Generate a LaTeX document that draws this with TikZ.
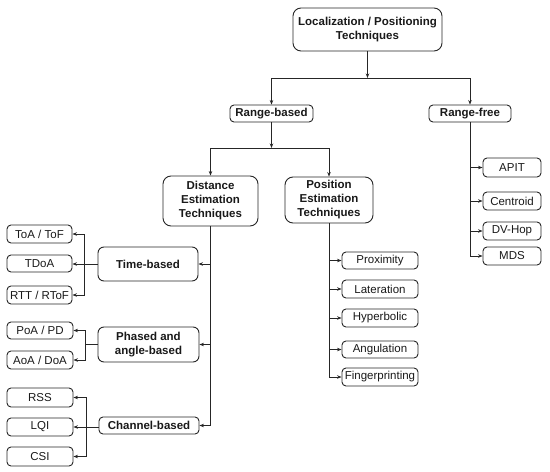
\documentclass[tikz,border=0pt]{standalone}
\usepackage{fontspec}
\setmainfont{Liberation Sans}
\usetikzlibrary{arrows.meta}
\begin{document}
\begin{tikzpicture}[x=1pt,y=-1pt,
  box/.style={draw=black!85, line width=0.9pt, rounded corners=4pt, inner sep=0pt, align=center,
    font=\fontsize{11.5}{14}\selectfont, text=black!90},
  bigbox/.style={box, rounded corners=8pt, font=\fontsize{11.5}{14}\selectfont\bfseries},
  midbox/.style={box, rounded corners=6pt, font=\fontsize{11.5}{14}\selectfont\bfseries},
  conn/.style={draw=black!85, line width=0.9pt},
  arr/.style={conn, -{Stealth[length=4.5pt,width=3.5pt]}}]
\useasboundingbox (0,0) rectangle (550,472);
% nodes
\node[bigbox, minimum width=149pt, minimum height=43pt] (top) at (367.5,29.5) {Localization / Positioning\\Techniques};
\node[midbox, rounded corners=4pt, minimum width=83pt, minimum height=17pt] (rb) at (271.5,113.5) {Range-based};
\node[midbox, rounded corners=4pt, minimum width=82pt, minimum height=17pt] (rf) at (470,113.5) {Range-free};
\node[bigbox, minimum width=95pt, minimum height=50pt] (dist) at (210.5,201) {Distance\\Estimation\\Techniques};
\node[bigbox, minimum width=88pt, minimum height=46pt] (pos) at (329,200) {Position\\Estimation\\Techniques};
\node[midbox, minimum width=100pt, minimum height=34pt] (time) at (148,264) {Time-based};
\node[midbox, minimum width=101pt, minimum height=35pt] (phase) at (148.5,344.5) {Phased and\\angle-based};
\node[midbox, rounded corners=4pt, minimum width=100pt, minimum height=17pt] (chan) at (149,425.5) {Channel-based};
% left leaves
\node[box, minimum width=65pt, minimum height=18pt] (toa) at (39.5,234) {ToA / ToF};
\node[box, minimum width=65pt, minimum height=17pt] (tdoa) at (39.5,263.5) {TDoA};
\node[box, minimum width=65pt, minimum height=18pt] (rtt) at (39.5,295) {RTT / RToF};
\node[box, minimum width=66pt, minimum height=17pt] (poa) at (40,330.5) {PoA / PD};
\node[box, minimum width=66pt, minimum height=18pt] (aoa) at (40,360) {AoA / DoA};
\node[box, minimum width=66pt, minimum height=19pt] (rss) at (40,397.5) {RSS};
\node[box, minimum width=66pt, minimum height=18pt] (lqi) at (40,427) {LQI};
\node[box, minimum width=66pt, minimum height=19pt] (csi) at (40,456.5) {CSI};
% position leaves
\node[box, minimum width=76pt, minimum height=17pt] (prox) at (380,260.5) {Proximity};
\node[box, minimum width=76pt, minimum height=18pt] (lat) at (380,289) {Lateration};
\node[box, minimum width=76pt, minimum height=18pt] (hyp) at (380,318) {Hyperbolic};
\node[box, minimum width=76pt, minimum height=17pt] (ang) at (380,349.5) {Angulation};
\node[box, minimum width=76pt, minimum height=18pt] (fin) at (380,377) {Fingerprinting};
% range-free leaves
\node[box, minimum width=58pt, minimum height=19pt] (apit) at (512,167.5) {APIT};
\node[box, minimum width=58pt, minimum height=18pt] (cent) at (512,201) {Centroid};
\node[box, minimum width=58pt, minimum height=18pt] (dvh) at (512,231) {DV-Hop};
\node[box, minimum width=58pt, minimum height=18pt] (mds) at (512,256) {MDS};
% junctions
\coordinate (j1) at (top.south |- 0,78);
\coordinate (j2) at (rb.south |- 0,148);
\coordinate (tb) at (84,264);
\coordinate (pb) at (85,344.5);
\coordinate (cb) at (86,427);
% connectors
\draw[arr] (top.south) -- (j1);
\draw[arr] (j1) -| (rb.north);
\draw[arr] (j1) -| (rf.north);
\draw[arr] (rb.south) -- (j2);
\draw[arr] (j2) -| (dist.north);
\draw[arr] (j2) -| (pos.north);
\draw[arr] (dist.south) |- (time.east);
\draw[arr] (dist.south) |- (phase.east);
\draw[arr] (dist.south) |- (chan.east);
\draw[conn] (time.west) -- (tb);
\draw[arr] (tb) |- (toa.east);
\draw[arr] (tb) -- (tdoa.east |- tb);
\draw[arr] (tb) |- (rtt.east);
\draw[conn] (phase.west) -- (pb);
\draw[arr] (pb) |- (poa.east);
\draw[arr] (pb) |- (aoa.east);
\draw[conn] (chan.west |- cb) -- (cb);
\draw[arr] (cb) |- (rss.east);
\draw[arr] (cb) -- (lqi.east);
\draw[arr] (cb) |- (csi.east);
\draw[arr] (pos.south) |- (prox.west);
\draw[arr] (pos.south) |- (lat.west);
\draw[arr] (pos.south) |- (hyp.west);
\draw[arr] (pos.south) |- (ang.west);
\draw[arr] (pos.south) |- (fin.west);
\draw[arr] (rf.south) |- (apit.west);
\draw[arr] (rf.south) |- (cent.west);
\draw[arr] (rf.south) |- (dvh.west);
\draw[arr] (rf.south) |- (mds.west);
\end{tikzpicture}
\end{document}
